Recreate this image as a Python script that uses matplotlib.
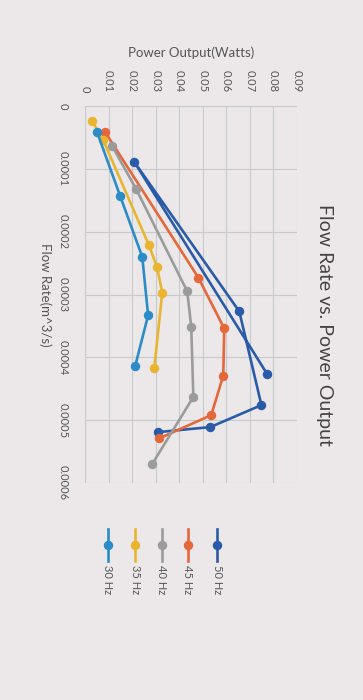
import matplotlib
matplotlib.use("Agg")
import matplotlib.pyplot as plt
from matplotlib.lines import Line2D

plt.rcParams['font.family'] = ['Lato', 'DejaVu Sans']

# ---- data (power in W, flow in m^3/s) ----
labels = ["50 Hz", "45 Hz", "40 Hz", "35 Hz", "30 Hz"]
colors = ["#2A5BA8", "#E5683A", "#9A9C9C", "#E9B530", "#2B8CC8"]

flow50 = [0.000427, 0.0000889, 0.000327, 0.000476, 0.000511, 0.000519]
power50 = [0.0774, 0.0209, 0.0655, 0.0749, 0.0532, 0.0311]

flow45 = [0.0000413, 0.000273, 0.000354, 0.000429, 0.000492, 0.000529]
power45 = [0.0085, 0.0481, 0.0591, 0.0587, 0.0536, 0.0315]

flow40 = [0.0000635, 0.000132, 0.000295, 0.000351, 0.000463, 0.00057]
power40 = [0.0115, 0.0217, 0.0434, 0.0451, 0.0460, 0.0285]

flow35 = [0.0000238, 0.000054, 0.000222, 0.000257, 0.000297, 0.000417]
power35 = [0.0030, 0.0077, 0.0272, 0.0306, 0.0328, 0.0294]

flow30 = [0.0000413, 0.000143, 0.00024, 0.000333, 0.000414]
power30 = [0.0051, 0.0149, 0.0243, 0.0268, 0.0213]

flows = [flow50, flow45, flow40, flow35, flow30]
powers = [power50, power45, power40, power35, power30]

power_ticks = [0, 0.01, 0.02, 0.03, 0.04, 0.05, 0.06, 0.07, 0.08, 0.09]
power_tick_labels = ["0", "0.01", "0.02", "0.03", "0.04", "0.05", "0.06", "0.07", "0.08", "0.09"]
flow_ticks = [0, 0.0001, 0.0002, 0.0003, 0.0004, 0.0005, 0.0006]
flow_tick_labels = ["0", "0.0001", "0.0002", "0.0003", "0.0004", "0.0005", "0.0006"]

title = "Flow Rate vs. Power Output"
xtitle = "Flow Rate(m^3/s)"
ytitle = "Power Output(Watts)"

# ---- figure ----
W, H = 363, 700
bg = "#ECE8EA"
fig = plt.figure(figsize=(W / 100, H / 100), dpi=100, facecolor=bg)

def fx(px):
    return px / W

def fy(py):
    return 1 - py / H

L, R, T, B = 85, 297, 106, 483
ax = fig.add_axes([fx(L), fy(B), fx(R) - fx(L), fy(T) - fy(B)])
ax.set_facecolor(bg)
ax.set_xlim(0, 0.09)
ax.set_ylim(0.0006, 0)

grid_c = "#C6CACA"
ax.set_xticks(power_ticks)
ax.set_xticklabels(power_tick_labels, rotation=-90, fontsize=8, color="#555555")
ax.set_yticks(flow_ticks)
ax.set_yticklabels(flow_tick_labels, rotation=-90, fontsize=8, color="#555555", va="center")
ax.xaxis.tick_top()
ax.tick_params(axis="x", length=0, pad=10)
ax.tick_params(axis="y", length=0, pad=12)
ax.grid(True, color=grid_c, linewidth=0.8)
for s in ax.spines.values():
    s.set_visible(False)
ax.axvline(0, color=grid_c, linewidth=0.8)

for i, (f, p) in enumerate(zip(flows, powers)):
    ax.plot(p, f, color=colors[i], linewidth=1.9, marker="o", markersize=5.8,
            zorder=3 + i, clip_on=False)

# axis titles and chart title (rotated photo)
fig.text(fx(191), fy(53), ytitle, ha="center", va="center", fontsize=9.5, color="#555555")
fig.text(fx(45), fy(295), xtitle, ha="center", va="center", fontsize=9.5,
         color="#555555", rotation=-90)
fig.text(fx(325), fy(325), title, ha="center", va="center", fontsize=14,
         color="#444444", rotation=-90)

# legend drawn manually (vertical entries)
leg_x = [217, 188, 162, 135, 108]
for i, lab in enumerate(labels):
    x = fx(leg_x[i])
    fig.add_artist(Line2D([x, x], [fy(529), fy(561)], color=colors[i], linewidth=1.9))
    fig.add_artist(Line2D([x], [fy(545)], color=colors[i], marker="o", markersize=5.8))
    fig.text(x, fy(565), lab, ha="center", va="top", rotation=-90, fontsize=8,
             color="#555555")

fig.savefig("out.png", dpi=100, facecolor=bg)
